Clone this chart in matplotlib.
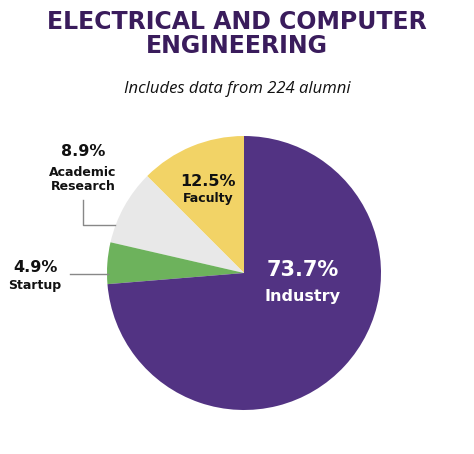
import matplotlib.pyplot as plt

labels = ["Faculty", "Academic\nResearch", "Startup", "Industry"]
values = [12.5, 8.9, 4.9, 73.7]
colors = ["#F2D366", "#E8E8E8", "#6DB25C", "#523383"]

title_color = "#3A1C5C"
fig = plt.figure(figsize=(4.74, 4.54), dpi=100)
fig.patch.set_facecolor("white")

fig.text(0.5, 0.925, "ELECTRICAL AND COMPUTER\nENGINEERING", ha="center", va="center",
         fontsize=17, fontweight="bold", family="DejaVu Sans", color=title_color,
         linespacing=1.0)
fig.text(0.5, 0.805, "Includes data from 224 alumni", ha="center", va="center",
         fontsize=12, style="italic", family="Open Sans", color="#111111")

# pie axes: center (244,273) px, radius 137 px
ax = fig.add_axes([(244 - 137) / 474, (454 - 273 - 137) / 454, 274 / 474, 274 / 454])
ax.pie(values, colors=colors, startangle=90, counterclock=True,
       wedgeprops=dict(linewidth=0))
ax.set_xlim(-1, 1)
ax.set_ylim(-1, 1)
ax.set_aspect("equal")

def px(x, y):
    return x / 474, 1 - y / 454

bold = dict(ha="center", va="center", fontweight="bold", family="DejaVu Sans")

# inside labels
x, y = px(208, 181)
fig.text(x, y, "12.5%", fontsize=11.5, color="#111111", **bold)
x, y = px(208, 198)
fig.text(x, y, "Faculty", fontsize=9, color="#111111", **bold)
x, y = px(303, 270)
fig.text(x, y, "73.7%", fontsize=15, color="white", **bold)
x, y = px(303, 296)
fig.text(x, y, "Industry", fontsize=11.5, color="white", **bold)

# outside labels
x, y = px(83, 152)
fig.text(x, y, "8.9%", fontsize=11.5, color="#111111", **bold)
x, y = px(83, 179)
fig.text(x, y, "Academic\nResearch", fontsize=9, color="#111111", linespacing=1.1, **bold)
x, y = px(35, 268)
fig.text(x, y, "4.9%", fontsize=11.5, color="#111111", **bold)
x, y = px(35, 285)
fig.text(x, y, "Startup", fontsize=9, color="#111111", **bold)

# leader lines
lx = [px(83, 200)[0], px(83, 225)[0], px(115, 225)[0]]
ly = [px(83, 200)[1], px(83, 225)[1], px(115, 225)[1]]
fig.add_artist(plt.Line2D(lx, ly, color="#888888", linewidth=1))
sx = [px(70, 274)[0], px(108, 274)[0]]
sy = [px(70, 274)[1], px(108, 274)[1]]
fig.add_artist(plt.Line2D(sx, sy, color="#888888", linewidth=1))

fig.savefig("out.png", dpi=100)
